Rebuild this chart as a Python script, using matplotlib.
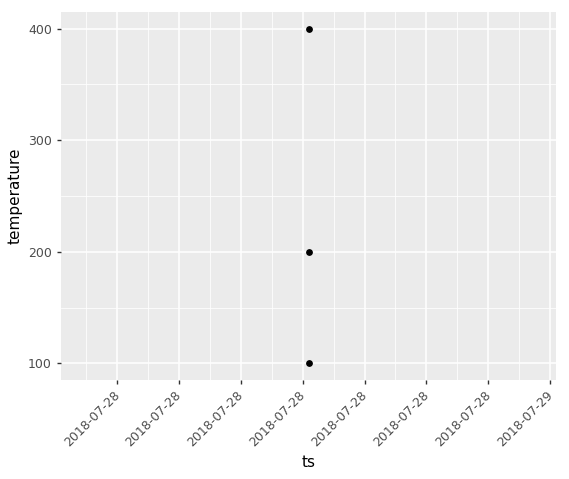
import numpy as np
import pandas as pd
import matplotlib
matplotlib.use("Agg")
import matplotlib.pyplot as plt
import matplotlib.dates as mdates
import matplotlib.transforms as mtransforms

# data
ts = pd.to_datetime(["2018-07-28 12:17", "2018-07-28 12:17", "2018-07-28 12:17"])
temperature = [100, 200, 400]

major_ticks = pd.date_range("2018-07-28 03:00", "2018-07-29 00:00", freq="3h")
minor_ticks = pd.date_range("2018-07-28 01:30", "2018-07-28 22:30", freq="3h")

fig = plt.figure(figsize=(5.69, 4.79), dpi=100)
ax = fig.add_axes([61 / 569, 1 - 380 / 479, (556 - 61) / 569, (380 - 12) / 479])

ax.set_facecolor("#ebebeb")
for s in ax.spines.values():
    s.set_visible(False)

ax.scatter(ts, temperature, s=15, color="black", zorder=3)

center = ts[0]
ax.set_xlim(center - pd.Timedelta(hours=12), center + pd.Timedelta(hours=12))
ax.set_ylim(85, 415)

ax.set_xticks(major_ticks)
ax.set_xticks(minor_ticks, minor=True)
ax.xaxis.set_major_formatter(mdates.DateFormatter("%Y-%m-%d"))
ax.set_yticks([100, 200, 300, 400])
ax.set_yticks([150, 250, 350], minor=True)

ax.grid(which="major", color="white", linewidth=1.1)
ax.grid(which="minor", color="white", linewidth=0.55)
ax.set_axisbelow(True)

ax.tick_params(which="major", length=3, width=1, color="#333333", labelcolor="#4d4d4d", labelsize=9)
ax.tick_params(which="minor", length=0)
shift = mtransforms.ScaledTranslation(-4 / 100, 0, fig.dpi_scale_trans)
for lbl in ax.get_xticklabels():
    lbl.set_rotation(45)
    lbl.set_ha("right")
    lbl.set_rotation_mode("anchor")
    lbl.set_transform(lbl.get_transform() + shift)

ax.set_xlabel("ts", fontsize=11)
ax.set_ylabel("temperature", fontsize=11)

fig.savefig("out.png", dpi=100)
